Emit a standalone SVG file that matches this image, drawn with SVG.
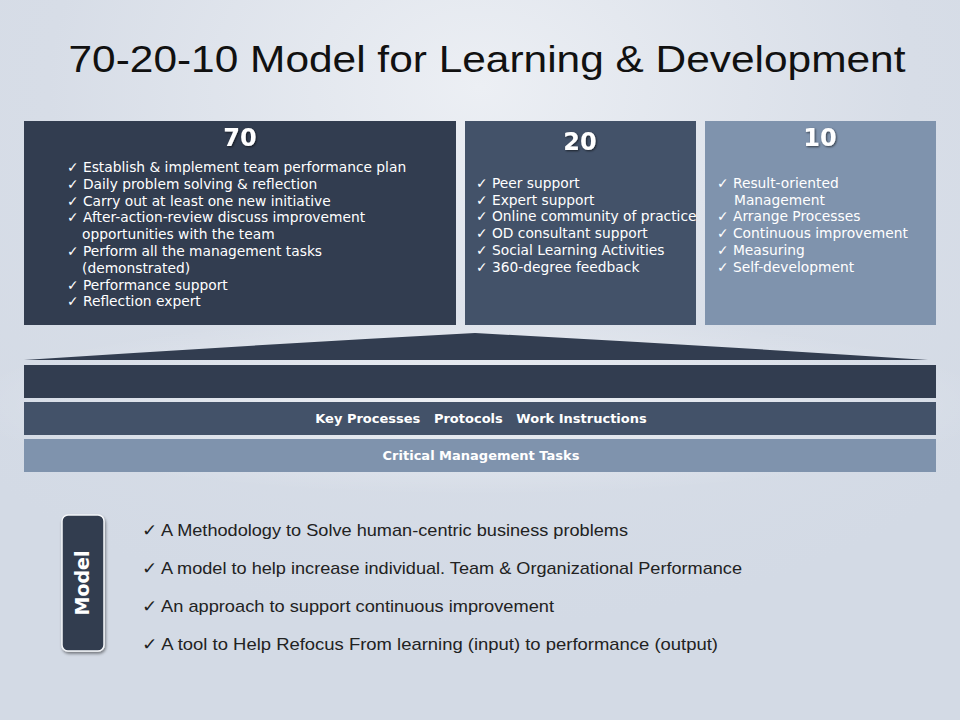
<svg xmlns="http://www.w3.org/2000/svg" width="960" height="720" viewBox="0 0 960 720">
<defs>
<radialGradient id="bg" cx="0.5" cy="0.12" r="0.75">
<stop offset="0" stop-color="#eceff4"/>
<stop offset="0.6" stop-color="#d7dde7"/>
<stop offset="1" stop-color="#d3dae5"/>
</radialGradient>
<radialGradient id="glow" cx="0.5" cy="0.5" r="0.5" gradientTransform="translate(0 0) scale(1 1)">
<stop offset="0" stop-color="#ffffff" stop-opacity="0.55"/>
<stop offset="1" stop-color="#ffffff" stop-opacity="0"/>
</radialGradient>
<filter id="sh" x="-20%" y="-20%" width="140%" height="140%">
<feDropShadow dx="1" dy="2" stdDeviation="1.5" flood-color="#000" flood-opacity="0.45"/>
</filter>
<filter id="tsh" x="-20%" y="-20%" width="140%" height="140%">
<feDropShadow dx="1" dy="1" stdDeviation="0.8" flood-color="#000" flood-opacity="0.6"/>
</filter>
</defs>
<style>
.dark{fill:#323d50}
.mid{fill:#435269}
.light{fill:#7f93ad}
.hdr{font-family:"DejaVu Sans",Verdana,sans-serif;font-weight:bold;font-size:24px;fill:#fff;text-anchor:middle}
.it{font-family:"DejaVu Sans",Verdana,sans-serif;font-size:13.8px;fill:#fff}
.band{font-family:"DejaVu Sans",Verdana,sans-serif;font-weight:bold;font-size:13px;fill:#fff;text-anchor:middle}
.bl{font-family:"Liberation Sans Narrow","Liberation Sans",Arial,sans-serif;font-size:17px;fill:#222}
</style>
<rect width="960" height="720" fill="url(#bg)"/>
<ellipse cx="480" cy="405" rx="520" ry="90" fill="url(#glow)"/>
<text x="487" y="72" font-family="'Liberation Sans',Arial,sans-serif" font-size="37" fill="#111" text-anchor="middle" textLength="837" lengthAdjust="spacingAndGlyphs">70-20-10 Model for Learning &amp; Development</text>

<g id="box70">
<rect x="24" y="121" width="432" height="204" class="dark"/>
<text x="240" y="146" class="hdr" filter="url(#tsh)">70</text>
<g class="it">
<text x="67" y="172">✓ Establish &amp; implement team performance plan</text>
<text x="67" y="189">✓ Daily problem solving &amp; reflection</text>
<text x="67" y="206">✓ Carry out at least one new initiative</text>
<text x="67" y="222">✓ After-action-review discuss improvement</text>
<text x="82" y="239">opportunities with the team</text>
<text x="67" y="256">✓ Perform all the management tasks</text>
<text x="82" y="273">(demonstrated)</text>
<text x="67" y="290">✓ Performance support</text>
<text x="67" y="306">✓ Reflection expert</text>
</g>
</g>

<g id="box20">
<rect x="465" y="121" width="231" height="204" class="mid"/>
<text x="580" y="150" class="hdr" filter="url(#tsh)">20</text>
<g class="it">
<text x="476" y="188">✓ Peer support</text>
<text x="476" y="205">✓ Expert support</text>
<text x="476" y="221">✓ Online community of practice</text>
<text x="476" y="238">✓ OD consultant support</text>
<text x="476" y="255">✓ Social Learning Activities</text>
<text x="476" y="272">✓ 360-degree feedback</text>
</g>
</g>

<g id="box10">
<rect x="705" y="121" width="231" height="204" class="light"/>
<text x="820" y="146" class="hdr" filter="url(#tsh)">10</text>
<g class="it">
<text x="717" y="188">✓ Result-oriented</text>
<text x="734" y="205">Management</text>
<text x="717" y="221">✓ Arrange Processes</text>
<text x="717" y="238">✓ Continuous improvement</text>
<text x="717" y="255">✓ Measuring</text>
<text x="717" y="272">✓ Self-development</text>
</g>
</g>

<g id="roof">
<path d="M24 360 Q250 345 475 333 Q700 345 928 360 Z" class="dark"/>
</g>
<g id="band1"><rect x="24" y="365" width="912" height="33" class="dark"/></g>
<g id="band2">
<rect x="24" y="402" width="912" height="33" class="mid"/>
<text x="481" y="423" class="band" xml:space="preserve">Key Processes   Protocols   Work Instructions</text>
</g>
<g id="band3">
<rect x="24" y="439" width="912" height="33" class="light"/>
<text x="481" y="460" class="band">Critical Management Tasks</text>
</g>

<g id="model">
<rect x="62" y="515" width="42" height="136" rx="6" fill="#323d50" stroke="#f4f6f9" stroke-width="1.5" filter="url(#sh)"/>
<text x="0" y="0" transform="translate(89 583) rotate(-90)" font-family="'DejaVu Sans',Verdana,sans-serif" font-weight="bold" font-size="19" fill="#fff" text-anchor="middle">Model</text>
</g>
<g id="bullets">
<text x="142" y="536" class="bl" textLength="486" lengthAdjust="spacingAndGlyphs">✓ A Methodology to Solve human-centric business problems</text>
<text x="142" y="574" class="bl" textLength="600" lengthAdjust="spacingAndGlyphs">✓ A model to help increase individual. Team &amp; Organizational Performance</text>
<text x="142" y="612" class="bl" textLength="412" lengthAdjust="spacingAndGlyphs">✓ An approach to support continuous improvement</text>
<text x="142" y="650" class="bl" textLength="576" lengthAdjust="spacingAndGlyphs">✓ A tool to Help Refocus From learning (input) to performance (output)</text>
</g>
</svg>
